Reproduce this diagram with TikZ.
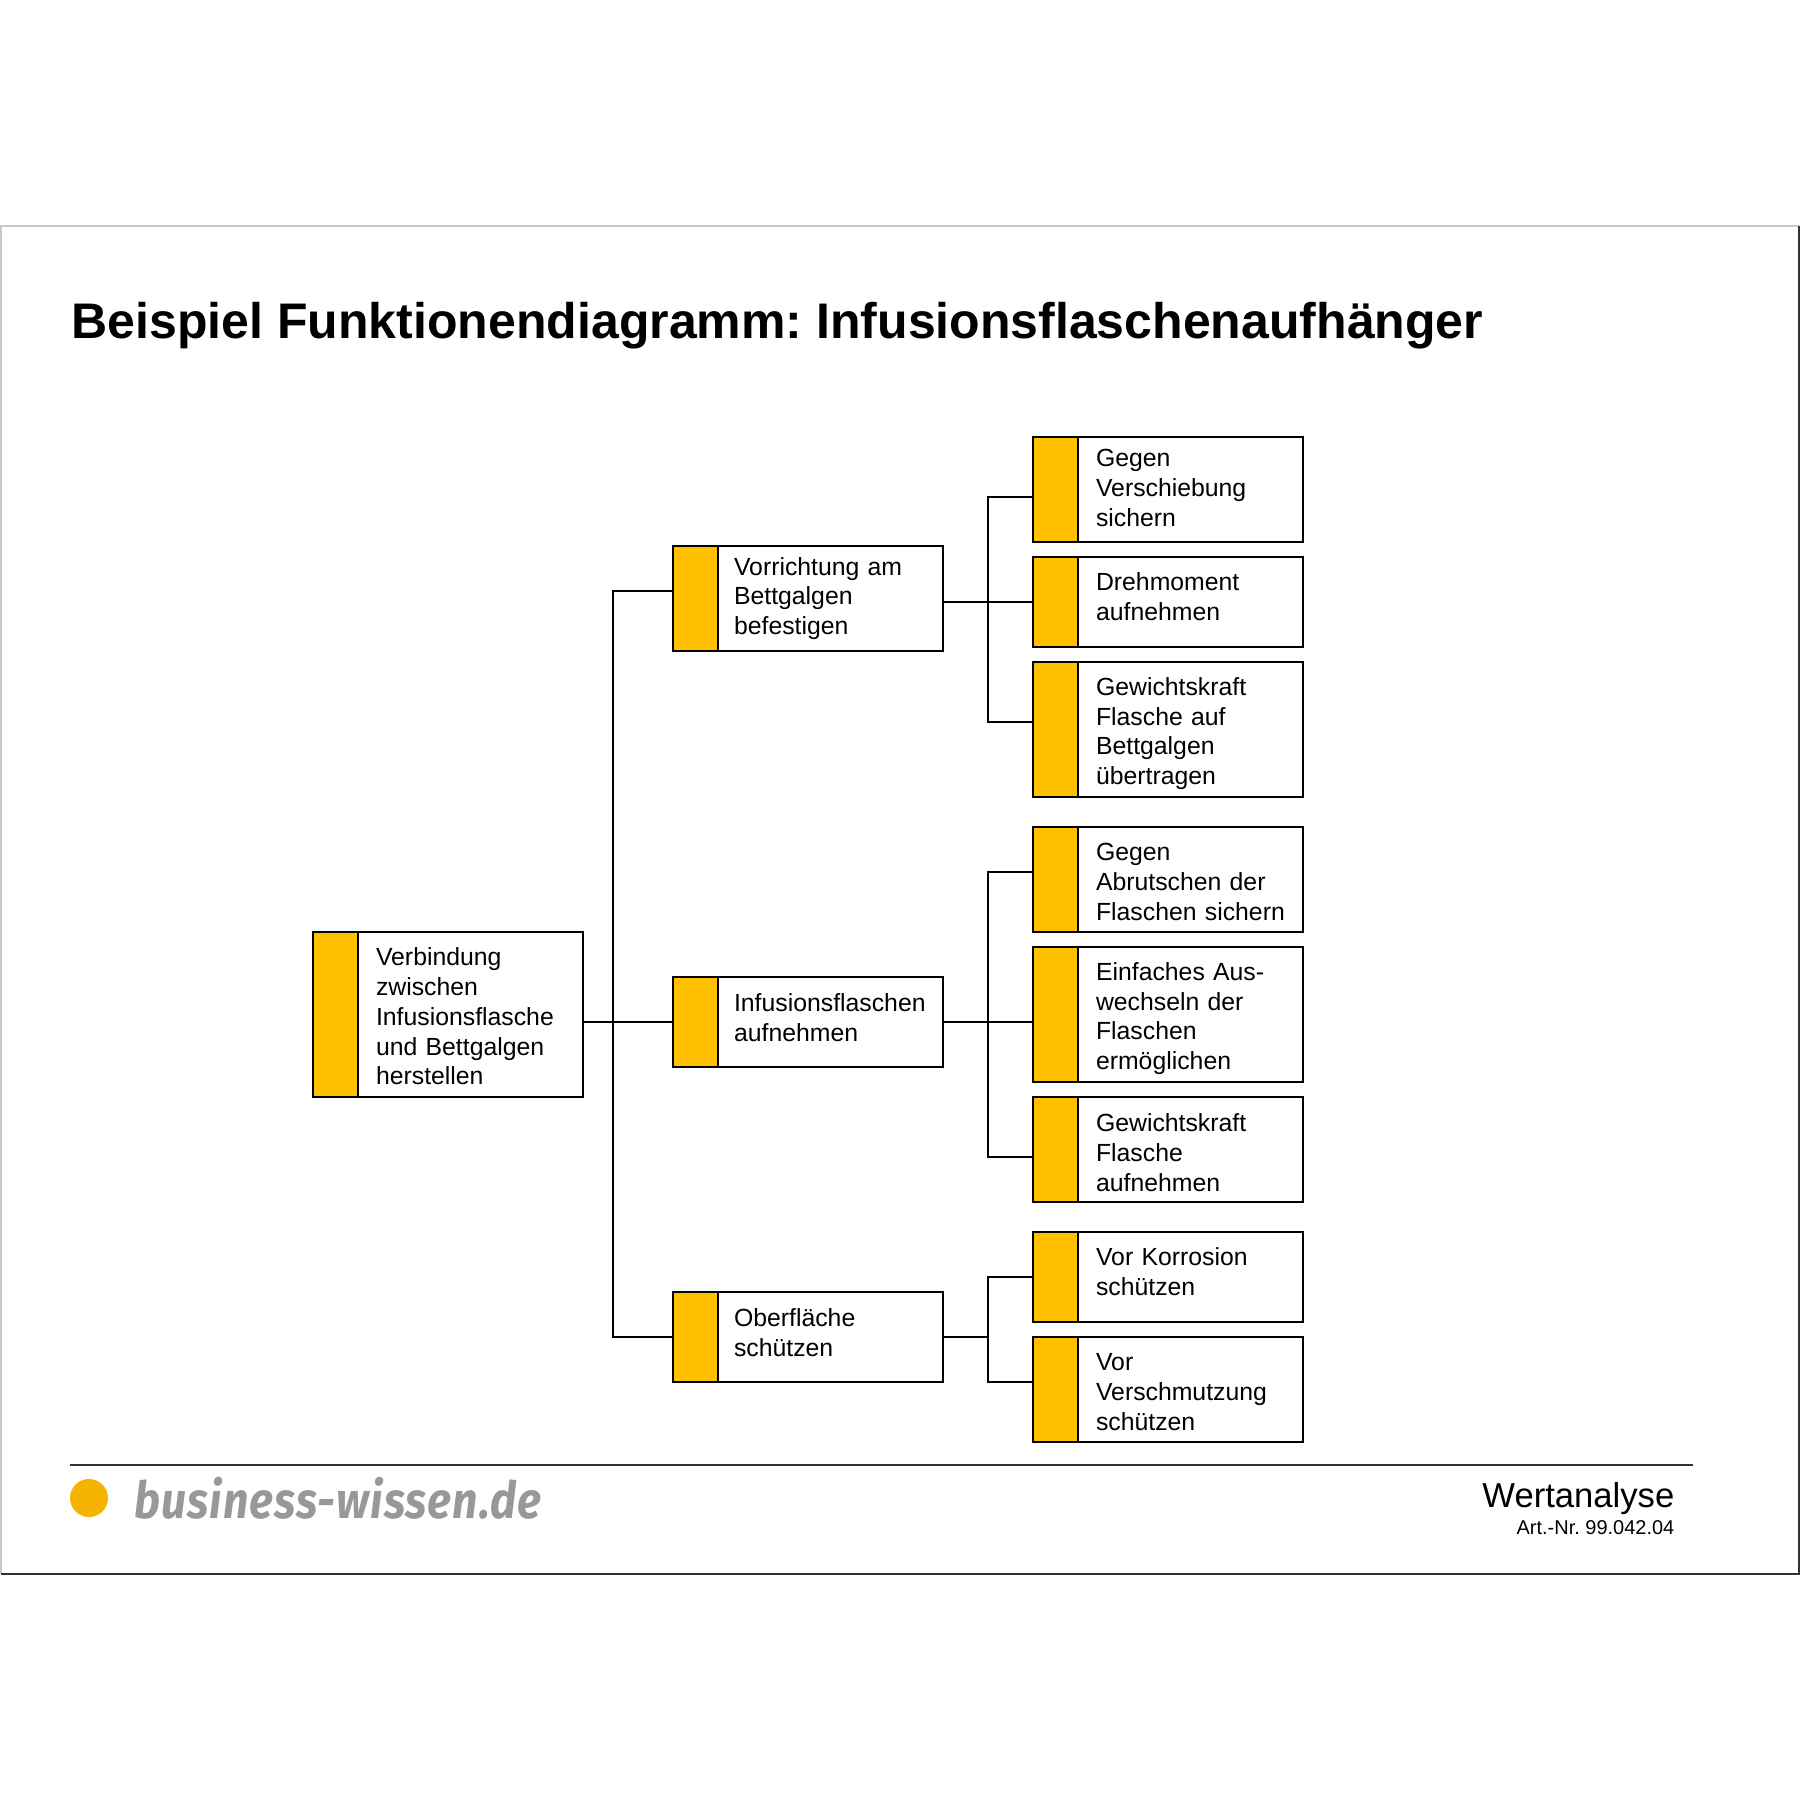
\documentclass[tikz,border=0pt]{standalone}
\usepackage{fontspec}
\setmainfont{Liberation Sans}
\newfontfamily\logofont[FakeStretch=0.875,LetterSpace=2]{Fira Sans}
\usetikzlibrary{positioning}
\definecolor{barfill}{HTML}{FFC000}
\definecolor{dotfill}{HTML}{F5B400}
\definecolor{logogray}{HTML}{999897}
\definecolor{framedark}{HTML}{333333}
\definecolor{framelight}{HTML}{C8C8C8}
\tikzset{
  funcbar/.style={draw=black,line width=0.55pt,fill=barfill,inner sep=0pt,outer sep=0pt,minimum width=0.45cm,minimum height=#1,anchor=north west},
  funclabel/.style 2 args={draw=black,line width=0.55pt,inner ysep=0pt,outer sep=0pt,inner xsep=0.18cm,text width=1.89cm,minimum height=#2,align=left,font=\fontsize{7.05}{8.5}\selectfont,right=0pt of #1},
  midlabel/.style={inner xsep=0.16cm,text width=1.93cm},
  botpad/.style={execute at end node={\par\vspace{#1}}},
  link/.style={draw=black,line width=0.55pt},
}
\frenchspacing
\begin{document}
\begin{tikzpicture}[x=0.01cm,y=-0.01cm]
        \useasboundingbox (0,0) rectangle (1800,1800);
        \draw[framelight,line width=0.4pt] (1,1574) -- (1,226) -- (1799,226);
        \draw[framedark,line width=0.45pt] (1,1574) -- (1799,1574) -- (1799,226);
        \node[anchor=base west,inner sep=0pt,font=\fontsize{14.22}{17}\selectfont\bfseries] (title) at (71,338) {Beispiel Funktionendiagramm: Infusionsflaschenaufhänger};
        \node[funcbar=1.65cm] (r1) at (313,932) {};
        \node[funclabel={r1}{1.65cm},botpad=-0.034cm] (r1t) {Verbindung\\zwischen\\Infusionsflasche\\und Bettgalgen\\herstellen};
        \node[funcbar=1.05cm] (m1) at (673,546) {};
        \node[funclabel={m1}{1.05cm},midlabel] (m1t) {Vorrichtung am\\Bettgalgen\\befestigen};
        \node[funcbar=0.9cm] (m2) at (673,977) {};
        \node[funclabel={m2}{0.9cm},midlabel,botpad=0.08cm] (m2t) {\mbox{Infusionsflaschen}\\aufnehmen};
        \node[funcbar=0.9cm] (m3) at (673,1292) {};
        \node[funclabel={m3}{0.9cm},midlabel,botpad=0.08cm] (m3t) {Oberfläche\\schützen};
        \node[funcbar=1.05cm] (s1) at (1033,437) {};
        \node[funclabel={s1}{1.05cm},botpad=0.034cm] (s1t) {Gegen\\Verschiebung\\sichern};
        \node[funcbar=0.9cm] (s2) at (1033,557) {};
        \node[funclabel={s2}{0.9cm},botpad=0.1cm] (s2t) {Drehmoment\\aufnehmen};
        \node[funcbar=1.35cm] (s3) at (1033,662) {};
        \node[funclabel={s3}{1.35cm},botpad=-0.08cm] (s3t) {Gewichtskraft\\Flasche auf\\Bettgalgen\\übertragen};
        \node[funcbar=1.05cm] (s4) at (1033,827) {};
        \node[funclabel={s4}{1.05cm},botpad=-0.046cm] (s4t) {Gegen\\Abrutschen der\\Flaschen sichern};
        \node[funcbar=1.35cm] (s5) at (1033,947) {};
        \node[funclabel={s5}{1.35cm},botpad=-0.08cm] (s5t) {Einfaches Aus-\\wechseln der\\Flaschen\\ermöglichen};
        \node[funcbar=1.05cm] (s6) at (1033,1097) {};
        \node[funclabel={s6}{1.05cm},botpad=-0.058cm] (s6t) {Gewichtskraft\\Flasche\\aufnehmen};
        \node[funcbar=0.9cm] (s7) at (1033,1232) {};
        \node[funclabel={s7}{0.9cm},botpad=0.1cm] (s7t) {Vor Korrosion\\schützen};
        \node[funcbar=1.05cm] (s8) at (1033,1337) {};
        \node[funclabel={s8}{1.05cm},botpad=-0.058cm] (s8t) {Vor\\Verschmutzung\\schützen};
        \coordinate (j1) at (613,591);
        \coordinate (j2) at (613,1022);
        \coordinate (j3) at (613,1337);
        \coordinate (k1) at (988,497);
        \coordinate (k2) at (988,602);
        \coordinate (k3) at (988,722);
        \coordinate (k4) at (988,872);
        \coordinate (k5) at (988,1022);
        \coordinate (k6) at (988,1157);
        \coordinate (k7) at (988,1277);
        \coordinate (k8) at (988,1337);
        \coordinate (k9) at (988,1382);
        \draw[link] (j2 -| r1t.east) -- (j2 -| m2.west);
        \draw[link] (j1 -| m1.west) -- (j1) -- (j3) -- (j3 -| m3.west);
        \draw[link] (k2 -| m1t.east) -- (k2 -| s2.west);
        \draw[link] (k1 -| s1.west) -- (k1) -- (k3) -- (k3 -| s3.west);
        \draw[link] (k5 -| m2t.east) -- (k5 -| s5.west);
        \draw[link] (k4 -| s4.west) -- (k4) -- (k6) -- (k6 -| s6.west);
        \draw[link] (k8 -| m3t.east) -- (k8);
        \draw[link] (k7 -| s7.west) -- (k7) -- (k9) -- (k9 -| s8.west);
        \coordinate (ruleleft) at (70,1465);
        \coordinate (ruleright) at (1693,1465);
        \draw[framedark,line width=0.6pt] (ruleleft) -- (ruleright);
        \node[circle,fill=dotfill,inner sep=0pt,minimum size=0.38cm] (dot) at (89,1498) {};
        \node[anchor=base west,inner sep=0pt,text=logogray,font=\logofont\fontsize{14.5}{17}\selectfont\bfseries\itshape] (logo) at (134,1518) {business-wissen.de};
        \node[anchor=base east,inner sep=0pt,font=\fontsize{9.85}{12}\selectfont] (area) at (1675,1507) {Wertanalyse};
        \node[anchor=base east,inner sep=0pt,font=\fontsize{5.68}{7}\selectfont] (artnr) at (1675,1534) {Art.-Nr. 99.042.04};
      \end{tikzpicture}
\end{document}
